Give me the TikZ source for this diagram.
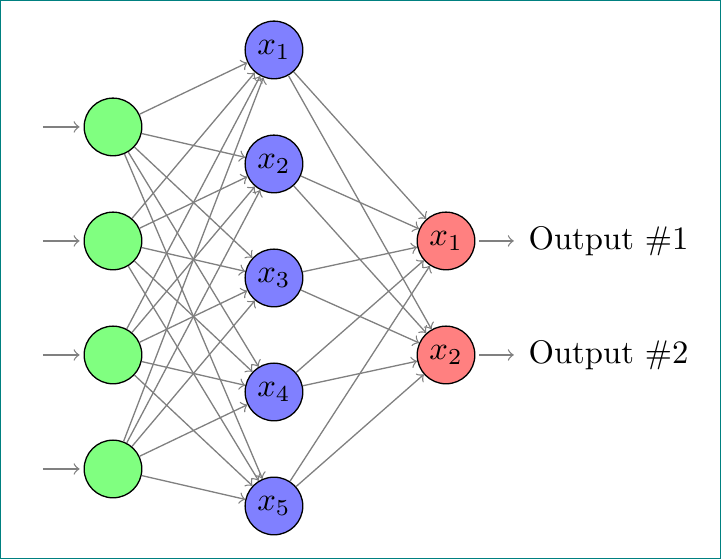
\documentclass[tikz,border=0pt]{standalone}
\usetikzlibrary{calc}
\tikzset{
neuron/.style={circle,draw=black,minimum size=0.62cm,inner sep=0pt},
input neuron/.style={neuron,fill=green!50},
hidden neuron/.style={neuron,fill=blue!50},
output neuron/.style={neuron,fill=red!50},
edge/.style={->,gray},
}
\begin{document}
\begin{tikzpicture}
\def\d{1.226}
\useasboundingbox (0,0) rectangle (7.753,6.011);
\draw[teal,line width=0.9pt](0,0) rectangle (7.753,6.011);
%\draw[help lines] (0,0) grid (7,6);
\foreach \i in {1,...,4}{
\node[input neuron] (I-\i) at (1.215,{0.968+\d*(4-\i)}) {};
\coordinate (in-\i) at ($(I-\i)+(-0.753,0)$);
\draw[edge,shorten >=1.2pt] (in-\i) -- (I-\i);
}
\foreach \i in {1,...,5}
\node[hidden neuron] (H-\i) at (2.946,{0.570+\d*(5-\i)}) {$x_\i$};
\foreach \i in {1,2}{
\node[output neuron] (O-\i) at (4.796,{2.194+\d*(2-\i)}) {$x_\i$};
\node[anchor=west] (L-\i) at (5.56,{2.194+\d*(2-\i)}) {Output \#\i};
\draw[edge,shorten <=1.2pt,shorten >=1pt] (O-\i) -- (L-\i);
}
\foreach \i in {1,...,4}
\foreach \j in {1,...,5}
\draw[edge] (I-\i) -- (H-\j);
\foreach \j in {1,...,5}
\foreach \k in {1,2}
\draw[edge] (H-\j) -- (O-\k);
\end{tikzpicture}
\end{document}
